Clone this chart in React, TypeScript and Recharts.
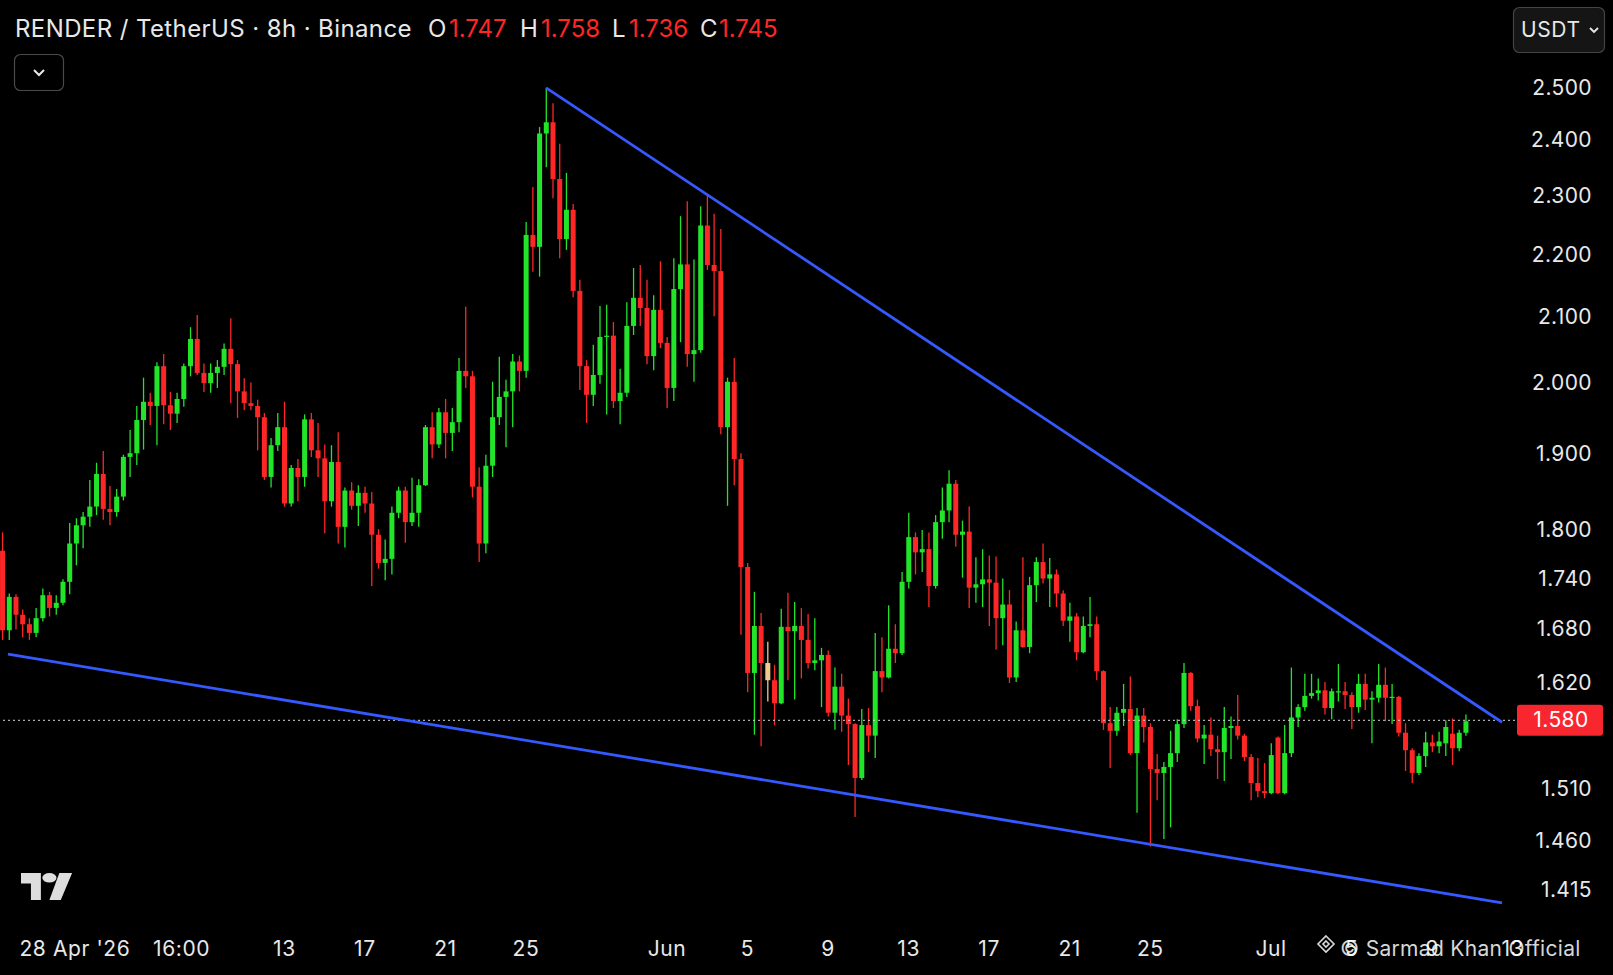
import React from 'react';
import { ComposedChart, Bar, XAxis, YAxis, ReferenceLine } from 'recharts';

// RENDER / USDT, 8h candles from 29 Apr '26 00:00 (index 0), one row of ten per line
const OPEN = [
  1.774, 1.679, 1.718, 1.697, 1.686, 1.676, 1.693, 1.72, 1.705, 1.711,
  1.736, 1.783, 1.806, 1.817, 1.83, 1.873, 1.827, 1.823, 1.843, 1.896,
  1.901, 1.947, 1.973, 1.967, 2.025, 1.968, 1.956, 1.977, 2.025, 2.066,
  2.015, 2.0, 2.015, 2.024, 2.051, 2.028, 1.988, 1.971, 1.967, 1.951,
  1.869, 1.912, 1.937, 1.834, 1.881, 1.869, 1.948, 1.905, 1.894, 1.837,
  1.889, 1.804, 1.851, 1.831, 1.848, 1.834, 1.794, 1.759, 1.764, 1.822,
  1.851, 1.81, 1.822, 1.858, 1.937, 1.913, 1.958, 1.929, 1.944, 2.018,
  2.01, 1.856, 1.783, 1.884, 1.951, 1.98, 1.988, 2.032, 2.018, 2.233,
  2.213, 2.413, 2.434, 2.33, 2.226, 2.276, 2.141, 2.025, 1.983, 2.012,
  2.069, 2.071, 1.974, 1.986, 2.086, 2.13, 2.114, 2.04, 2.111, 2.06,
  1.993, 2.144, 2.184, 2.043, 2.049, 2.249, 2.183, 2.173, 1.937, 2.002,
  1.893, 1.754, 1.631, 1.684, 1.642, 1.623, 1.598, 1.683, 1.678, 1.684,
  1.668, 1.642, 1.645, 1.651, 1.588, 1.616, 1.585, 1.576, 1.521, 1.575,
  1.564, 1.633, 1.626, 1.658, 1.653, 1.736, 1.791, 1.772, 1.776, 1.731,
  1.81, 1.825, 1.86, 1.794, 1.798, 1.729, 1.733, 1.739, 1.735, 1.693,
  1.709, 1.626, 1.679, 1.66, 1.732, 1.76, 1.74, 1.745, 1.722, 1.69,
  1.695, 1.654, 1.684, 1.686, 1.633, 1.577, 1.569, 1.588, 1.592, 1.546,
  1.585, 1.573, 1.53, 1.526, 1.532, 1.546, 1.576, 1.631, 1.595, 1.561,
  1.565, 1.55, 1.547, 1.572, 1.574, 1.564, 1.542, 1.516, 1.508, 1.506,
  1.562, 1.506, 1.546, 1.583, 1.594, 1.606, 1.609, 1.612, 1.593, 1.611,
  1.611, 1.607, 1.594, 1.619, 1.602, 1.604, 1.618, 1.604, 1.605, 1.567,
  1.549, 1.526, 1.543, 1.557, 1.553, 1.556, 1.566, 1.551, 1.567,
];

const HIGH = [
  1.797, 1.722, 1.721, 1.703, 1.693, 1.705, 1.728, 1.724, 1.72, 1.739,
  1.809, 1.815, 1.823, 1.865, 1.888, 1.904, 1.857, 1.853, 1.899, 1.933,
  1.967, 2.008, 1.986, 2.031, 2.043, 1.987, 1.986, 2.029, 2.084, 2.103,
  2.029, 2.029, 2.034, 2.059, 2.098, 2.034, 2.007, 2.001, 1.976, 1.957,
  1.922, 1.957, 1.973, 1.885, 1.893, 1.955, 1.957, 1.943, 1.913, 1.912,
  1.93, 1.855, 1.862, 1.858, 1.856, 1.849, 1.801, 1.788, 1.83, 1.856,
  1.856, 1.868, 1.866, 1.94, 1.958, 1.964, 1.977, 1.964, 2.037, 2.116,
  2.018, 1.882, 1.899, 2.002, 2.039, 2.005, 2.043, 2.041, 2.255, 2.316,
  2.425, 2.5, 2.47, 2.394, 2.341, 2.286, 2.159, 2.034, 2.057, 2.117,
  2.119, 2.092, 2.021, 2.123, 2.178, 2.183, 2.159, 2.134, 2.189, 2.069,
  2.194, 2.265, 2.291, 2.192, 2.282, 2.304, 2.269, 2.243, 2.008, 2.037,
  1.901, 1.759, 1.724, 1.699, 1.666, 1.64, 1.704, 1.723, 1.712, 1.705,
  1.698, 1.693, 1.659, 1.656, 1.637, 1.63, 1.603, 1.577, 1.592, 1.593,
  1.676, 1.671, 1.708, 1.686, 1.748, 1.822, 1.797, 1.8, 1.797, 1.819,
  1.855, 1.878, 1.865, 1.812, 1.83, 1.766, 1.776, 1.768, 1.767, 1.74,
  1.726, 1.689, 1.766, 1.742, 1.766, 1.783, 1.765, 1.751, 1.726, 1.711,
  1.699, 1.695, 1.718, 1.695, 1.634, 1.594, 1.594, 1.619, 1.627, 1.593,
  1.593, 1.577, 1.545, 1.537, 1.569, 1.581, 1.642, 1.632, 1.602, 1.575,
  1.583, 1.564, 1.594, 1.584, 1.607, 1.566, 1.545, 1.541, 1.536, 1.556,
  1.563, 1.575, 1.637, 1.597, 1.63, 1.63, 1.625, 1.621, 1.614, 1.641,
  1.621, 1.61, 1.63, 1.63, 1.611, 1.641, 1.637, 1.619, 1.606, 1.577,
  1.551, 1.546, 1.568, 1.565, 1.568, 1.58, 1.582, 1.57, 1.586,
];

const LOW = [
  1.668, 1.668, 1.68, 1.671, 1.668, 1.671, 1.689, 1.695, 1.697, 1.708,
  1.721, 1.756, 1.777, 1.804, 1.819, 1.813, 1.806, 1.817, 1.838, 1.869,
  1.885, 1.906, 1.94, 1.912, 1.941, 1.933, 1.943, 1.966, 2.01, 2.012,
  1.987, 1.986, 1.993, 2.012, 1.971, 1.95, 1.961, 1.961, 1.905, 1.865,
  1.855, 1.904, 1.83, 1.83, 1.837, 1.856, 1.896, 1.869, 1.796, 1.83,
  1.783, 1.778, 1.826, 1.805, 1.822, 1.731, 1.752, 1.738, 1.745, 1.815,
  1.784, 1.805, 1.804, 1.857, 1.894, 1.908, 1.894, 1.904, 1.93, 1.993,
  1.842, 1.76, 1.771, 1.869, 1.94, 1.909, 1.937, 1.988, 2.008, 2.172,
  2.164, 2.351, 2.296, 2.194, 2.208, 2.131, 1.99, 1.943, 1.967, 1.999,
  1.955, 1.964, 1.941, 1.98, 2.072, 2.086, 2.028, 2.019, 2.052, 1.964,
  1.974, 2.061, 2.024, 2.002, 2.045, 2.175, 2.101, 1.927, 1.831, 1.858,
  1.674, 1.61, 1.565, 1.553, 1.6, 1.575, 1.597, 1.623, 1.602, 1.625,
  1.636, 1.634, 1.594, 1.584, 1.57, 1.568, 1.534, 1.483, 1.519, 1.547,
  1.541, 1.61, 1.625, 1.642, 1.651, 1.728, 1.745, 1.748, 1.706, 1.728,
  1.789, 1.81, 1.779, 1.741, 1.705, 1.711, 1.706, 1.684, 1.657, 1.662,
  1.62, 1.621, 1.659, 1.653, 1.712, 1.734, 1.706, 1.706, 1.684, 1.666,
  1.645, 1.653, 1.671, 1.623, 1.57, 1.531, 1.564, 1.574, 1.544, 1.487,
  1.557, 1.455, 1.499, 1.462, 1.473, 1.537, 1.572, 1.59, 1.557, 1.535,
  1.543, 1.52, 1.518, 1.54, 1.56, 1.538, 1.499, 1.502, 1.501, 1.505,
  1.505, 1.505, 1.542, 1.573, 1.59, 1.603, 1.601, 1.586, 1.581, 1.6,
  1.592, 1.571, 1.588, 1.591, 1.556, 1.599, 1.579, 1.576, 1.563, 1.528,
  1.516, 1.524, 1.532, 1.547, 1.546, 1.543, 1.534, 1.548, 1.564,
];

const CLOSE = [
  1.679, 1.718, 1.697, 1.686, 1.676, 1.693, 1.72, 1.705, 1.711, 1.736,
  1.783, 1.806, 1.817, 1.83, 1.873, 1.827, 1.823, 1.843, 1.896, 1.901,
  1.947, 1.973, 1.967, 2.025, 1.968, 1.956, 1.977, 2.025, 2.066, 2.015,
  2.0, 2.015, 2.024, 2.051, 2.028, 1.988, 1.971, 1.967, 1.951, 1.869,
  1.912, 1.937, 1.834, 1.881, 1.869, 1.948, 1.905, 1.894, 1.837, 1.889,
  1.804, 1.851, 1.831, 1.848, 1.834, 1.794, 1.759, 1.764, 1.822, 1.851,
  1.81, 1.822, 1.858, 1.937, 1.913, 1.958, 1.929, 1.944, 2.018, 2.01,
  1.856, 1.783, 1.884, 1.951, 1.98, 1.988, 2.032, 2.018, 2.233, 2.213,
  2.413, 2.434, 2.33, 2.226, 2.276, 2.141, 2.025, 1.983, 2.012, 2.069,
  2.071, 1.974, 1.986, 2.086, 2.13, 2.114, 2.04, 2.111, 2.06, 1.993,
  2.144, 2.184, 2.043, 2.049, 2.249, 2.183, 2.173, 1.937, 2.002, 1.893,
  1.754, 1.631, 1.684, 1.642, 1.623, 1.598, 1.683, 1.678, 1.684, 1.668,
  1.642, 1.645, 1.651, 1.588, 1.616, 1.585, 1.576, 1.521, 1.575, 1.564,
  1.633, 1.626, 1.658, 1.653, 1.736, 1.791, 1.772, 1.776, 1.731, 1.81,
  1.825, 1.86, 1.794, 1.798, 1.729, 1.733, 1.739, 1.735, 1.693, 1.709,
  1.626, 1.679, 1.66, 1.732, 1.76, 1.74, 1.745, 1.722, 1.69, 1.695,
  1.654, 1.684, 1.686, 1.633, 1.577, 1.569, 1.588, 1.592, 1.546, 1.585,
  1.573, 1.53, 1.526, 1.532, 1.546, 1.576, 1.631, 1.595, 1.561, 1.565,
  1.55, 1.547, 1.572, 1.574, 1.564, 1.542, 1.516, 1.508, 1.506, 1.544,
  1.506, 1.546, 1.583, 1.594, 1.606, 1.609, 1.612, 1.593, 1.611, 1.611,
  1.607, 1.594, 1.619, 1.602, 1.604, 1.618, 1.604, 1.605, 1.567, 1.549,
  1.526, 1.543, 1.557, 1.553, 1.558, 1.573, 1.551, 1.567, 1.579,
];

// time axis: candle index of each label
const X_TICKS = [10.8, 26.7, 42, 54, 66, 78, 99, 111, 123, 135, 147, 159, 171, 189, 201, 213, 225];
const X_LABELS = ["28 Apr '26", '16:00', '13', '17', '21', '25', 'Jun', '5', '9', '13', '17', '21', '25', 'Jul', '5', '9', '13'];

const Y_TICKS = [2.5, 2.4, 2.3, 2.2, 2.1, 2.0, 1.9, 1.8, 1.74, 1.68, 1.62, 1.51, 1.46, 1.415];
const LAST_PRICE = 1.58;

// hand-drawn trend lines, [candle index, price]
const UPPER_TREND = [[81, 2.5], [223.4, 1.578]];
const LOWER_TREND = [[0.83, 1.652], [223.4, 1.404]];

const SELECTED_CANDLE = 114;

const GREEN = '#22e52a';
const RED = '#ff2626';
const BEIGE = '#f1c88e';
const BLUE = '#3558ff';
const TEXT = '#e8e8e8';
const FONT = 'Inter, "Noto Sans", sans-serif';

const CHART_W = 1613;
const CHART_H = 975;
const AXIS_W = 98;
const PLOT_RIGHT = CHART_W - AXIS_W;

// the price scale of the screenshot is compressed like ln(p - 0.5)
const toAxis = (p: number) => Math.log(p - 0.5);
const fromAxis = (v: number) => Math.exp(v) + 0.5;

const PRICE_MIN = 1.3934;
const PRICE_MAX = 2.555;
const IDX_MIN = -0.36;
const IDX_MAX = 225.33;

const candles = CLOSE.map((close, i) => ({
  i,
  open: OPEN[i],
  high: HIGH[i],
  low: LOW[i],
  close,
  range: [toAxis(LOW[i]), toAxis(HIGH[i])],
}));

const Candle = (props: any) => {
  const { x, y, width, height, payload } = props;
  if (!payload || height == null) return null;
  const top = toAxis(payload.high);
  const span = top - toAxis(payload.low);
  const yAt = (p: number) => (span > 0 ? y + ((top - toAxis(p)) / span) * height : y);
  const up = payload.close >= payload.open;
  const color = payload.i === SELECTED_CANDLE ? BEIGE : up ? GREEN : RED;
  const cx = x + width / 2;
  const yo = yAt(payload.open);
  const yc = yAt(payload.close);
  return (
    <g>
      <line x1={cx} x2={cx} y1={y} y2={y + height} stroke={color} strokeWidth={1.3} />
      <rect x={x} y={Math.min(yo, yc)} width={width} height={Math.max(1.2, Math.abs(yo - yc))} fill={color} />
    </g>
  );
};

const PriceTick = ({ y, payload }: any) => (
  <text x={1592} y={y} dy={7} textAnchor="end" fill={TEXT} fontSize={21} letterSpacing={0.4} fontFamily={FONT}>
    {fromAxis(payload.value).toFixed(3)}
  </text>
);

const TimeTick = ({ x, y, payload }: any) => {
  const k = X_TICKS.indexOf(payload.value);
  return (
    <text x={x} y={y + 41} textAnchor="middle" fill={TEXT} fontSize={21} letterSpacing={0.6} fontFamily={FONT}>
      {k >= 0 ? X_LABELS[k] : ''}
    </text>
  );
};

const PriceTag = (props: any) => {
  const cy = (props.viewBox && props.viewBox.y) || 0;
  return (
    <g>
      <rect x={PLOT_RIGHT + 2} y={cy - 15.5} width={86} height={31} rx={3} fill="#f7262f" />
      <text x={PLOT_RIGHT + 46} y={cy} dy={7} textAnchor="middle" fill="#ffffff" fontSize={21} letterSpacing={0.4} fontFamily={FONT}>
        {LAST_PRICE.toFixed(3)}
      </text>
    </g>
  );
};

const trendSegment = (pts: number[][]) => pts.map(([i, p]) => ({ x: i, y: toAxis(p) }));

const Overlay = () => (
  <svg width={CHART_W} height={CHART_H} style={{ position: 'absolute', left: 0, top: 0, pointerEvents: 'none' }} fontFamily={FONT}>
    <text x={15} y={37} fontSize={24} letterSpacing={0.4} fill={TEXT}>RENDER / TetherUS · 8h · Binance</text>
    <text x={428} y={37} fontSize={24} fill={TEXT}>O</text>
    <text x={449} y={37} fontSize={24} fill={RED}>1.747</text>
    <text x={520} y={37} fontSize={24} fill={TEXT}>H</text>
    <text x={541} y={37} fontSize={24} fill={RED}>1.758</text>
    <text x={612} y={37} fontSize={24} fill={TEXT}>L</text>
    <text x={629} y={37} fontSize={24} fill={RED}>1.736</text>
    <text x={700} y={37} fontSize={24} fill={TEXT}>C</text>
    <text x={719} y={37} fontSize={24} fill={RED}>1.745</text>

    <rect x={14.5} y={54.5} width={49} height={36} rx={6} fill="none" stroke="#4a4a4a" strokeWidth={1.2} />
    <path d="M34 70 l5 5 l5 -5" fill="none" stroke={TEXT} strokeWidth={2} />

    <rect x={1513.5} y={7.5} width={91} height={45} rx={6} fill="#151515" stroke="#444" strokeWidth={1.2} />
    <text x={1521} y={37} fontSize={21} letterSpacing={0.6} fill={TEXT}>USDT</text>
    <path d="M1590 28 l4 4 l4 -4" fill="none" stroke={TEXT} strokeWidth={1.8} />

    <g transform="translate(21 873) scale(1.42 0.96)" fill="#dedede">
      <path d="M14 28H7V11H0V0h14z" />
      <circle cx={20} cy={5} r={5} />
      <path d="M28 28h-8L27 0h9z" />
    </g>

    <g fill="none" stroke="rgba(255,255,255,0.85)" strokeWidth={1.6}>
      <path d="M1326 936 l8 8 l-8 8 l-8 -8 z" />
      <path d="M1326 941 l3 3 l-3 3 l-3 -3 z" />
    </g>
    <text x={1340} y={956} fontSize={21} letterSpacing={0.3} fill="rgba(255,255,255,0.85)">© Sarmad Khan Official</text>
  </svg>
);

const App = () => (
  <div style={{ position: 'absolute', left: 0, top: 0, width: CHART_W, height: CHART_H, background: '#000', overflow: 'hidden' }}>
    <ComposedChart width={CHART_W} height={CHART_H} data={candles} margin={{ top: 60, right: 0, bottom: 10, left: 0 }}>
      <XAxis
        dataKey="i"
        type="number"
        domain={[IDX_MIN, IDX_MAX]}
        allowDataOverflow
        ticks={X_TICKS}
        interval={0}
        axisLine={false}
        tickLine={false}
        tickSize={0}
        tickMargin={0}
        height={50}
        tick={<TimeTick />}
      />
      <YAxis
        orientation="right"
        type="number"
        domain={[toAxis(PRICE_MIN), toAxis(PRICE_MAX)]}
        allowDataOverflow
        ticks={Y_TICKS.map(toAxis)}
        interval={0}
        axisLine={false}
        tickLine={false}
        tickSize={0}
        tickMargin={0}
        width={AXIS_W}
        tick={<PriceTick />}
      />
      <Bar dataKey="range" barSize={5} shape={<Candle />} isAnimationActive={false} />
      <ReferenceLine
        y={toAxis(LAST_PRICE)}
        stroke="#d8d8d8"
        strokeWidth={1}
        strokeDasharray="2 3"
        label={<PriceTag />}
      />
      <ReferenceLine segment={trendSegment(UPPER_TREND)} stroke={BLUE} strokeWidth={2.8} ifOverflow="visible" />
      <ReferenceLine segment={trendSegment(LOWER_TREND)} stroke={BLUE} strokeWidth={2.8} ifOverflow="visible" />
    </ComposedChart>
    <Overlay />
  </div>
);

export default App;
